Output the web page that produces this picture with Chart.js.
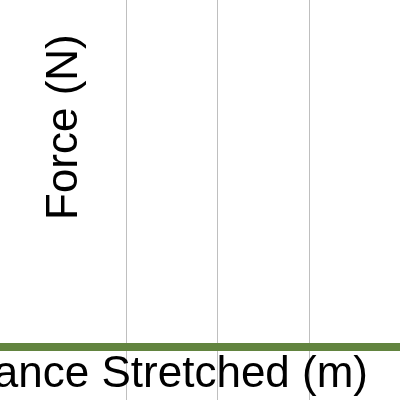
<!DOCTYPE html>
<html>
<head>
<script src="https://cdn.jsdelivr.net/npm/chart.js@4"></script>
<style>
  html, body { margin: 0; padding: 0; background: #fff; }
  canvas { display: block; }
</style>
</head>
<body>
<canvas id="chart" width="400" height="400"></canvas>
<script>
// visible part of the chart
const xTitle = 'Distance Stretched (m)';
const yTitle = 'Force (N)';
const lineX = [-0.4, 4.0];
const lineY = [0, 0];

// draw the axis titles over the grid
const titlesPlugin = {
    id: 'titles',
    afterDraw(chart) {
        const ctx = chart.ctx;
        ctx.save();
        ctx.fillStyle = '#000';
        ctx.font = '44px "Liberation Sans", Arial, sans-serif';
        ctx.textAlign = 'right';
        ctx.textBaseline = 'alphabetic';
        ctx.fillText(xTitle, 368, 387);
        ctx.translate(77, 220);
        ctx.rotate(-Math.PI / 2);
        ctx.textAlign = 'left';
        ctx.fillText(yTitle, 0, 0);
        ctx.restore();
    }
};

function gridColor(ctx, special) {
    const v = ctx.tick.value;
    if (Math.abs(v - Math.round(v)) > 1e-6) return 'rgba(0,0,0,0)';
    return v === special ? '#000' : '#bfbfbf';
}

new Chart(document.getElementById('chart'), {
    type: 'scatter',
    data: {
        datasets: [{
            data: lineX.map((x, i) => ({ x: x, y: lineY[i] })),
            showLine: true,
            borderColor: '#62843f',
            borderWidth: 8,
            pointRadius: 0
        }]
    },
    options: {
        responsive: false,
        animation: false,
        layout: { padding: 0 },
        plugins: { legend: { display: false }, tooltip: { enabled: false } },
        scales: {
            x: {
                type: 'linear',
                min: -36 / 91,
                max: -36 / 91 + 400 / 91,
                ticks: { display: false, stepSize: 1 },
                border: { display: false },
                grid: {
                    drawTicks: false,
                    color: c => gridColor(c, 0),
                    lineWidth: c => c.tick.value === 0 ? 3 : 1
                }
            },
            y: {
                type: 'linear',
                min: -53 / 50,
                max: 347 / 50,
                ticks: { display: false, stepSize: 1 },
                border: { display: false },
                grid: {
                    drawTicks: false,
                    color: c => gridColor(c, 5),
                    lineWidth: c => c.tick.value === 5 ? 2 : 1
                }
            }
        }
    },
    plugins: [titlesPlugin]
});
</script>
</body>
</html>
